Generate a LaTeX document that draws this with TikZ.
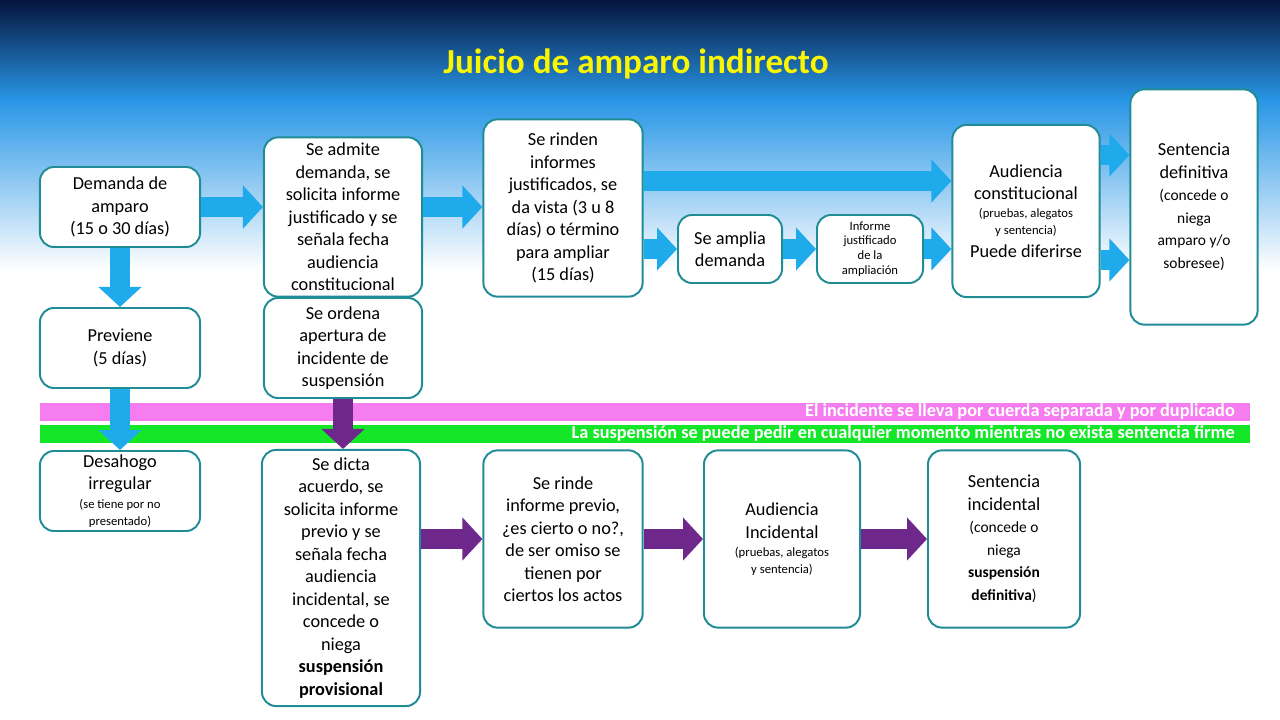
\documentclass[tikz,border=0pt]{standalone}
\usepackage{fontspec}
\setmainfont{Carlito}
\usetikzlibrary{arrows.meta,calc}
\definecolor{boxline}{RGB}{32,140,150}
\definecolor{arrblue}{RGB}{30,170,235}
\definecolor{arrpurple}{RGB}{110,40,140}
\definecolor{bandpink}{RGB}{245,125,240}
\definecolor{bandgreen}{RGB}{20,230,40}
\definecolor{navy}{RGB}{5,20,60}
\definecolor{sky}{RGB}{40,150,230}
\tikzset{
  paso/.style={draw=boxline, line width=1.4pt, fill=white, rounded corners=0.35cm,
    align=center, font=\fontsize{13}{16}\selectfont, inner sep=2pt},
  bluearr/.style={draw=arrblue, line width=0.5cm, -{Triangle[length=0.5cm,width=1.05cm]}},
  purparr/.style={draw=arrpurple, line width=0.5cm, -{Triangle[length=0.5cm,width=1.05cm]}},
  band/.style={anchor=east, text=white, font=\fontsize{13}{14}\selectfont\bfseries, inner sep=0pt}
}
\newcommand{\chica}{\fontsize{9}{11}\selectfont}
\newcommand{\media}{\fontsize{11}{15}\selectfont}
\begin{document}
\begin{tikzpicture}[x=0.025cm,y=-0.025cm]
\useasboundingbox (0,0) rectangle (1280,720);
% fondo
\fill[white] (0,0) rectangle (1280,720);
\shade[top color=navy, bottom color=sky] (0,0) rectangle (1280,100);
\shade[top color=sky, bottom color=white] (0,100) rectangle (1280,270);
\node[font=\fontsize{25}{28}\selectfont\bfseries, text={rgb,255:red,250;green,245;blue,0}] (titulo) at (636,64) {Juicio de amparo indirecto};
% bandas
\fill[bandpink] (40,403) rectangle (1250,421);
\fill[bandgreen] (40,425) rectangle (1250,443);
\node[band] (cuerda) at (1235,412) {El incidente se lleva por cuerda separada y por duplicado};
\node[band] (firme) at (1235,434) {La suspensión se puede pedir en cualquier momento mientras no exista sentencia firme};
% principal
\node[paso, minimum width=4cm, minimum height=2cm] (demanda) at (120,207) {Demanda de\\amparo\\(15 o 30 días)};
\node[paso, minimum width=4cm, minimum height=2cm] (previene) at (120,348) {Previene\\(5 días)};
\node[paso, minimum width=4cm, minimum height=2cm] (desahogo) at (120,491) {Desahogo\\irregular\\[-3pt]{\chica (se tiene por no}\\[-4pt]{\chica presentado)}};
\node[paso, minimum width=3.95cm, minimum height=3.98cm] (admite) at (343,217) {Se admite\\demanda, se\\solicita informe\\justificado y se\\señala fecha\\audiencia\\constitucional};
\node[paso, minimum width=3.95cm, minimum height=2.5cm] (ordena) at (343,348) {Se ordena\\apertura de\\incidente de\\suspensión};
\node[paso, minimum width=3.95cm, minimum height=6.4cm] (dicta) at (341,578) {Se dicta\\acuerdo, se\\solicita informe\\previo y se\\señala fecha\\audiencia\\incidental, se\\concede o\\niega\\\textbf{suspensión}\\\textbf{provisional}};
\node[paso, minimum width=3.98cm, minimum height=4.43cm] (rinden) at (563,208) {Se rinden\\informes\\justificados, se\\da vista (3 u 8\\días) o término\\para ampliar\\(15 días)};
\node[paso, minimum width=2.6cm, minimum height=1.7cm] (amplia) at (730,249) {Se amplia\\demanda};
\node[paso, minimum width=2.65cm, minimum height=1.7cm, font=\fontsize{9}{10.5}\selectfont] (infamp) at (870,249) {Informe\\justificado\\de la\\ampliación};
\node[paso, minimum width=3.68cm, minimum height=4.3cm] (audiencia) at (1026,211) {Audiencia\\constitucional\\[-3pt]{\chica (pruebas, alegatos}\\[-4pt]{\chica y sentencia)}\\Puede diferirse};
\node[paso, minimum width=3.18cm, minimum height=5.88cm] (sentencia) at (1194,207) {Sentencia\\definitiva\\{\media (concede o}\\{\media niega}\\{\media amparo y/o}\\{\media sobresee)}};
% incidente
\node[paso, minimum width=3.98cm, minimum height=4.43cm] (rinde) at (563,539) {Se rinde\\informe previo,\\¿es cierto o no?,\\de ser omiso se\\tienen por\\ciertos los actos};
\node[paso, minimum width=3.9cm, minimum height=4.43cm] (audinc) at (782,539) {Audiencia\\Incidental\\[-3pt]{\chica (pruebas, alegatos}\\[-4pt]{\chica y sentencia)}};
\node[paso, minimum width=3.8cm, minimum height=4.43cm] (sentinc) at (1004,539) {Sentencia\\incidental\\{\media (concede o}\\{\media niega}\\{\media\bfseries suspensión}\\{\media\bfseries definitiva\mdseries)}};
% flechas
\draw[bluearr] (demanda.east) -- (admite.west |- demanda.east);
\draw[bluearr] (admite.east |- demanda.east) -- (rinden.west |- demanda.east);
\draw[bluearr] ($(rinden.east)+(0,-27)$) -- ($(audiencia.west |- rinden.east)+(0,-27)$);
\draw[bluearr] (rinden.east |- amplia.west) -- (amplia.west);
\draw[bluearr] (amplia.east) -- (infamp.west);
\draw[bluearr] (infamp.east) -- (audiencia.west |- infamp.east);
\draw[bluearr] ($(audiencia.east)+(0,-56)$) -- ($(sentencia.west |- audiencia.east)+(0,-56)$);
\draw[bluearr] ($(audiencia.east)+(0,49)$) -- ($(sentencia.west |- audiencia.east)+(0,49)$);
\draw[bluearr] (demanda.south) -- (previene.north);
\draw[bluearr] (previene.south) -- (desahogo.north);
\draw[purparr] (ordena.south) -- (dicta.north -| ordena.south);
\draw[purparr] (dicta.east |- rinde.west) -- (rinde.west);
\draw[purparr] (rinde.east) -- (audinc.west);
\draw[purparr] (audinc.east) -- (sentinc.west);
\end{tikzpicture}
\end{document}
